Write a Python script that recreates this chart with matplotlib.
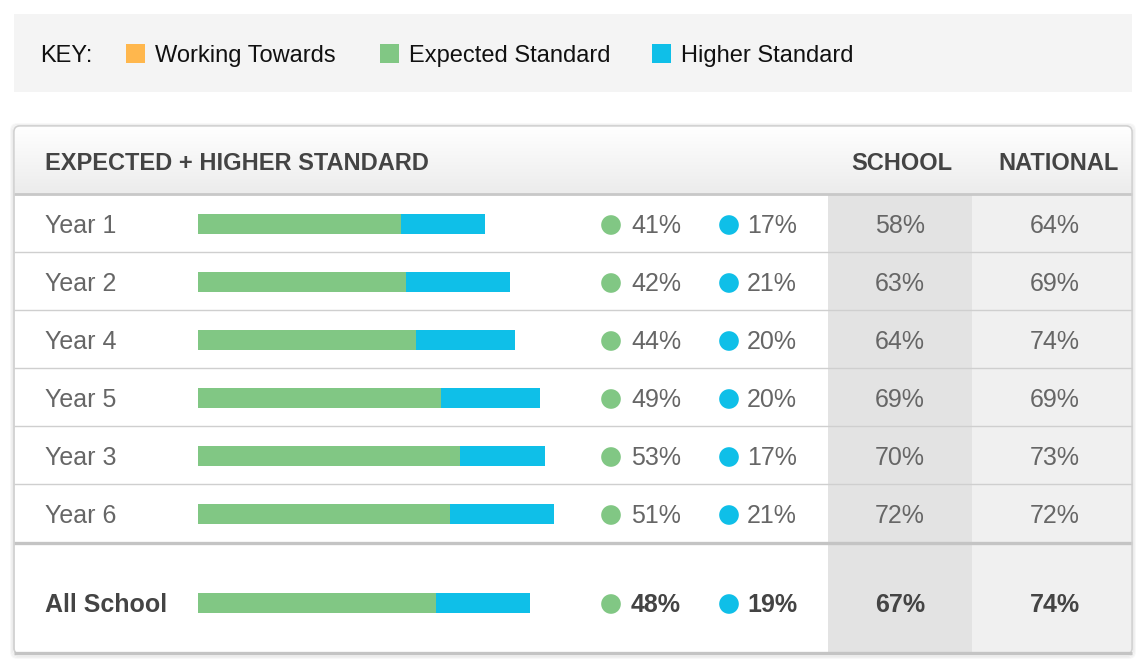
import matplotlib
matplotlib.use("Agg")
import matplotlib.pyplot as plt
import numpy as np
from matplotlib.patches import Rectangle, FancyBboxPatch

plt.rcParams['font.family'] = ['Liberation Sans', 'DejaVu Sans']

# ---- data ----
categories = ["Year 1", "Year 2", "Year 4", "Year 5", "Year 3", "Year 6"]
expected = [41, 42, 44, 49, 53, 51]
higher = [17, 21, 20, 20, 17, 21]
school = [58, 63, 64, 69, 70, 72]
national = [64, 69, 74, 69, 73, 72]
total_label = "All School"
total_expected = 48
total_higher = 19
total_school = 67
total_national = 74
key_labels = ["Working Towards", "Expected Standard", "Higher Standard"]
col_headers = ["EXPECTED + HIGHER STANDARD", "SCHOOL", "NATIONAL"]

# ---- style ----
C_WT = "#ffb74d"
C_EXP = "#81c784"
C_HI = "#0fbfe8"
W, H = 1146, 670
TY = 2  # text baseline nudge (px)

fig = plt.figure(figsize=(W / 100, H / 100), dpi=100)
fig.patch.set_facecolor("white")
ax = fig.add_axes([0, 0, 1, 1])
ax.set_xlim(0, W)
ax.set_ylim(H, 0)
ax.axis("off")

# ---- key panel ----
ax.add_patch(Rectangle((14, 14), 1118, 78, facecolor="#f4f4f4", edgecolor="none", zorder=1))
ax.text(40, 54 + TY, "KEY:", fontsize=17, color="#111111", va="center", ha="left", zorder=2)
key_x = [126, 380, 652]
for kx, lab, col in zip(key_x, key_labels, [C_WT, C_EXP, C_HI]):
    ax.add_patch(Rectangle((kx, 44), 19, 19, facecolor=col, edgecolor="none", zorder=2))
    ax.text(kx + 29, 54 + TY, lab, fontsize=17, color="#111111", va="center", ha="left", zorder=2)

# ---- table frame ----
tx0, tx1 = 14, 1132
ty0, ty1 = 126, 654
hdr_bot = 194
for i, a in enumerate([0.05, 0.04, 0.03]):
    d = i + 1
    ax.add_patch(FancyBboxPatch((tx0 - d, ty0 - d + 1), (tx1 - tx0) + 2 * d, (ty1 - ty0) + 2 * d,
                                boxstyle="round,pad=0,rounding_size=6", facecolor="none",
                                edgecolor=(0, 0, 0, a), lw=1.2, zorder=1))
frame = FancyBboxPatch((tx0, ty0), tx1 - tx0, ty1 - ty0, boxstyle="round,pad=0,rounding_size=6",
                       facecolor="white", edgecolor="#d6d6d6", lw=1, zorder=2)
ax.add_patch(frame)

# header gradient
grad = np.linspace(0, 1, 64).reshape(-1, 1)
top = np.array([1.0, 1.0, 1.0])
bot = np.array([0.925, 0.925, 0.925])
img = top[None, None, :] * (1 - grad[..., None]) + bot[None, None, :] * grad[..., None]
im = ax.imshow(img, extent=(tx0, tx1, hdr_bot, ty0), aspect="auto", zorder=3, interpolation="bilinear")
hdr_clip = FancyBboxPatch((tx0, ty0), tx1 - tx0, hdr_bot - ty0 + 10,
                          boxstyle="round,pad=0,rounding_size=6", transform=ax.transData,
                          facecolor="none", edgecolor="none")
ax.add_patch(hdr_clip)
im.set_clip_path(hdr_clip)
ax.plot([tx0, tx1], [hdr_bot, hdr_bot], color="#c8c8c8", lw=2, zorder=6, solid_capstyle="butt")
ax.add_patch(FancyBboxPatch((tx0, ty0), tx1 - tx0, ty1 - ty0, boxstyle="round,pad=0,rounding_size=6",
                            facecolor="none", edgecolor="#d0d0d0", lw=1, zorder=7))

# column backgrounds
sc0, sc1 = 828, 972
ax.add_patch(Rectangle((sc0, hdr_bot), sc1 - sc0, ty1 - hdr_bot, facecolor="#e3e3e3", edgecolor="none", zorder=3))
ax.add_patch(Rectangle((sc1, hdr_bot), tx1 - sc1, ty1 - hdr_bot, facecolor="#f0f0f0", edgecolor="none", zorder=3))

# header text
ax.text(45, 162 + TY, col_headers[0], fontsize=17, fontweight="bold", color="#444444", va="center", ha="left", zorder=8)
ax.text(902, 162 + TY, col_headers[1], fontsize=17, fontweight="bold", color="#444444", va="center", ha="center", zorder=8)
ax.text(1059, 162 + TY, col_headers[2], fontsize=17, fontweight="bold", color="#444444", va="center", ha="center", zorder=8)

# rows
row_h = 58
row_y = [hdr_bot + row_h / 2 + 1 + i * row_h for i in range(len(categories))]
sep_thick = hdr_bot + row_h * len(categories) + 1
total_y = 603

for i in range(1, len(categories)):
    yy = hdr_bot + i * row_h
    ax.plot([tx0, tx1], [yy, yy], color="#cfcfcf", lw=1, zorder=5, solid_capstyle="butt")
ax.plot([tx0, tx1], [sep_thick, sep_thick], color="#c4c4c4", lw=2.4, zorder=5, solid_capstyle="butt")
ax.plot([tx0, tx1], [ty1 - 1, ty1 - 1], color="#c4c4c4", lw=2.4, zorder=8, solid_capstyle="butt")

all_y = row_y + [total_y]
all_lab = categories + [total_label]
all_exp = expected + [total_expected]
all_hi = higher + [total_higher]
all_sch = school + [total_school]
all_nat = national + [total_national]

for k, (yy, lab, e, h, s, n) in enumerate(zip(all_y, all_lab, all_exp, all_hi, all_sch, all_nat)):
    is_total = k == len(all_y) - 1
    col = "#444444" if is_total else "#666666"
    fw = "bold" if is_total else "normal"
    fs = 18
    ty = yy + TY
    ax.text(45, ty, lab, fontsize=fs, color=col, fontweight=fw, va="center", ha="left", zorder=8)
    ax.scatter([611], [yy + 1], s=200, color=C_EXP, edgecolor="none", zorder=8)
    ax.text(631, ty, f"{e}%", fontsize=fs, color=col, fontweight=fw, va="center", ha="left", zorder=8)
    ax.scatter([729], [yy + 1], s=200, color=C_HI, edgecolor="none", zorder=8)
    ax.text(747, ty, f"{h}%", fontsize=fs, color=col, fontweight=fw, va="center", ha="left", zorder=8)
    ax.text(900, ty, f"{s}%", fontsize=fs, color=col, fontweight=fw, va="center", ha="center", zorder=8)
    ax.text(1055, ty, f"{n}%", fontsize=fs, color=col, fontweight=fw, va="center", ha="center", zorder=8)

# bars in their own axes (0-100 % scale)
bx0, bw = 198, 495
bax = fig.add_axes([bx0 / W, 0, bw / W, 1])
bax.set_xlim(0, 100)
bax.set_ylim(H, 0)
bax.axis("off")
bax.patch.set_alpha(0)
bax.barh(all_y, all_exp, height=20, color=C_EXP, edgecolor="none", zorder=9)
bax.barh(all_y, all_hi, left=all_exp, height=20, color=C_HI, edgecolor="none", zorder=9)

fig.savefig("out.png", dpi=100, facecolor="white")
